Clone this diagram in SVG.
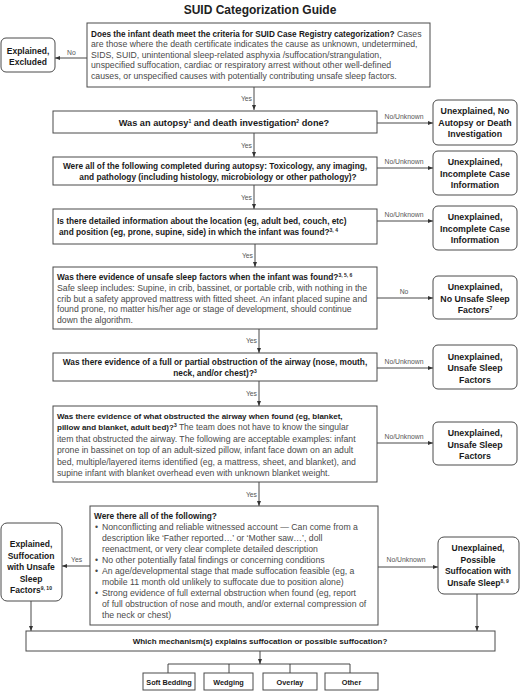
<svg xmlns="http://www.w3.org/2000/svg" width="520" height="691" viewBox="0 0 520 691">
<defs>
<marker id="ah" markerWidth="6" markerHeight="6" refX="5" refY="3" orient="auto" markerUnits="userSpaceOnUse">
<path d="M0,1 L5,3 L0,5 Z" fill="#333"/>
</marker>
<style>
text{font-family:"Liberation Sans",Arial,sans-serif;}
.t{font-size:12px;font-weight:bold;fill:#222;text-anchor:middle;}
.b{font-size:8.3px;font-weight:bold;fill:#1a1a1a;}
.r{font-size:8.7px;fill:#4a4a4a;}
.rf{font-weight:normal;fill:#4a4a4a;font-size:8.7px;}
.c{text-anchor:middle;}
.rb{font-size:8.8px;font-weight:bold;fill:#1a1a1a;text-anchor:middle;}
.rs{font-size:8.5px;}
.lbl{font-size:6.8px;fill:#555;}
.box{fill:#fff;stroke:#4a4a4a;stroke-width:1;}
.rbox{fill:#fff;stroke:#4a4a4a;stroke-width:1;}
.ln{fill:none;stroke:#333;stroke-width:0.9;}
.sup{font-size:5px;}
.m{font-size:7.3px;}
</style>
</defs>
<rect width="520" height="691" fill="#fff"/>
<text class="t" x="260" y="14">SUID Categorization Guide</text>

<g id="connectors">
<line class="ln" x1="87" y1="58" x2="55" y2="58" marker-end="url(#ah)"/>
<text class="lbl" x="67" y="55">No</text>
<line class="ln" x1="254" y1="87" x2="254" y2="110" marker-end="url(#ah)"/>
<text class="lbl" x="252" y="101" text-anchor="end">Yes</text>
<line class="ln" x1="377" y1="123" x2="433" y2="123" marker-end="url(#ah)"/>
<text class="lbl c" x="404" y="119">No/Unknown</text>
<line class="ln" x1="254" y1="133" x2="254" y2="157" marker-end="url(#ah)"/>
<text class="lbl" x="252" y="148" text-anchor="end">Yes</text>
<line class="ln" x1="377" y1="168" x2="433" y2="168" marker-end="url(#ah)"/>
<text class="lbl c" x="404" y="164">No/Unknown</text>
<line class="ln" x1="254" y1="185" x2="254" y2="209" marker-end="url(#ah)"/>
<text class="lbl" x="252" y="200" text-anchor="end">Yes</text>
<line class="ln" x1="377" y1="221" x2="433" y2="221" marker-end="url(#ah)"/>
<text class="lbl c" x="404" y="217">No/Unknown</text>
<line class="ln" x1="255" y1="244" x2="255" y2="267" marker-end="url(#ah)"/>
<text class="lbl" x="253" y="258" text-anchor="end">Yes</text>
<line class="ln" x1="377" y1="298" x2="433" y2="298" marker-end="url(#ah)"/>
<text class="lbl c" x="404" y="294">No</text>
<line class="ln" x1="259" y1="329" x2="259" y2="353" marker-end="url(#ah)"/>
<text class="lbl" x="257" y="343" text-anchor="end">Yes</text>
<line class="ln" x1="377" y1="368" x2="433" y2="368" marker-end="url(#ah)"/>
<text class="lbl c" x="404" y="364">No/Unknown</text>
<line class="ln" x1="259" y1="381" x2="259" y2="406" marker-end="url(#ah)"/>
<text class="lbl" x="257" y="396" text-anchor="end">Yes</text>
<line class="ln" x1="377" y1="443" x2="433" y2="443" marker-end="url(#ah)"/>
<text class="lbl c" x="404" y="439">No/Unknown</text>
<line class="ln" x1="259" y1="482" x2="259" y2="506" marker-end="url(#ah)"/>
<text class="lbl" x="257" y="497" text-anchor="end">Yes</text>
<line class="ln" x1="90" y1="566" x2="62" y2="566" marker-end="url(#ah)"/>
<text class="lbl" x="71" y="562">Yes</text>
<line class="ln" x1="378" y1="567" x2="438" y2="567" marker-end="url(#ah)"/>
<text class="lbl c" x="406" y="562">No/Unknown</text>
<line class="ln" x1="31" y1="601" x2="31" y2="631" marker-end="url(#ah)"/>
<line class="ln" x1="477" y1="594" x2="477" y2="631" marker-end="url(#ah)"/>
<line class="ln" x1="260" y1="651" x2="260" y2="664" marker-end="url(#ah)"/>
<path class="ln" d="M168,673 V664 H350 V673 M229,664 V673 M290,664 V673"/>
</g>

<g id="n-criteria">
<rect class="box" x="87" y="23" width="343" height="64"/>
<text class="b" x="91" y="36.5" style="font-size:8.2px">Does the infant death meet the criteria for SUID Case Registry categorization?<tspan class="rf"> Cases</tspan></text>
<text class="r" x="91" y="47">are those where the death certificate indicates the cause as unknown, undetermined,</text>
<text class="r" x="91" y="57.5">SIDS, SUID, unintentional sleep-related asphyxia /suffocation/strangulation,</text>
<text class="r" x="91" y="68">unspecified suffocation, cardiac or respiratory arrest without other well-defined</text>
<text class="r" x="91" y="78.5">causes, or unspecified causes with potentially contributing unsafe sleep factors.</text>
</g>

<g id="n-excluded">
<rect class="rbox" x="1" y="38" width="54" height="34" rx="5"/>
<text class="rb rs" x="28" y="54">Explained,</text>
<text class="rb rs" x="28" y="64.5">Excluded</text>
</g>

<g id="n-autopsy">
<rect class="box" x="53" y="111" width="324" height="22"/>
<text class="b c" x="224" y="125.5" style="font-size:9.2px">Was an autopsy<tspan class="sup" dy="-3">1</tspan><tspan dy="3"> and death investigation</tspan><tspan class="sup" dy="-3">2</tspan><tspan dy="3"> done?</tspan></text>
</g>

<g id="n-noautopsy">
<rect class="rbox" x="433" y="100" width="84" height="45" rx="5"/>
<text class="rb" x="475" y="114">Unexplained, No</text>
<text class="rb" x="475" y="125.5">Autopsy or Death</text>
<text class="rb" x="475" y="137">Investigation</text>
</g>

<g id="n-completed">
<rect class="box" x="53" y="157" width="324" height="28"/>
<text class="b c" x="215" y="168.5">Were all of the following completed during autopsy: Toxicology, any imaging,</text>
<text class="b c" x="218" y="179.5">and pathology (including histology, microbiology or other pathology)?</text>
</g>

<g id="n-incomplete1">
<rect class="rbox" x="433" y="151" width="84" height="44" rx="5"/>
<text class="rb" x="475" y="165">Unexplained,</text>
<text class="rb" x="475" y="176.5">Incomplete Case</text>
<text class="rb" x="475" y="188">Information</text>
</g>

<g id="n-location">
<rect class="box" x="53" y="209" width="324" height="35"/>
<text class="b" x="57" y="223.5">Is there detailed information about the location (eg, adult bed, couch, etc)</text>
<text class="b" x="59" y="235">and position (eg, prone, supine, side) in which the infant was found?<tspan class="sup" dy="-3">3, 4</tspan></text>
</g>

<g id="n-incomplete2">
<rect class="rbox" x="433" y="206" width="84" height="44" rx="5"/>
<text class="rb" x="475" y="220">Unexplained,</text>
<text class="rb" x="475" y="231.5">Incomplete Case</text>
<text class="rb" x="475" y="243">Information</text>
</g>

<g id="n-unsafe">
<rect class="box" x="53" y="267" width="324" height="62"/>
<text class="b" x="57" y="280">Was there evidence of unsafe sleep factors when the infant was found?<tspan class="sup" dy="-3">3, 5, 6</tspan></text>
<text class="r" x="57" y="291">Safe sleep includes: Supine, in crib, bassinet, or portable crib, with nothing in the</text>
<text class="r" x="57" y="301.5">crib but a safety approved mattress with fitted sheet. An infant placed supine and</text>
<text class="r" x="57" y="312">found prone, no matter his/her age or stage of development, should continue</text>
<text class="r" x="57" y="322.5">down the algorithm.</text>
</g>

<g id="n-nounsafe">
<rect class="rbox" x="433" y="276" width="84" height="43" rx="5"/>
<text class="rb" x="475" y="290">Unexplained,</text>
<text class="rb" x="475" y="301.5">No Unsafe Sleep</text>
<text class="rb" x="475" y="313">Factors<tspan class="sup" dy="-3">7</tspan></text>
</g>

<g id="n-obstruction">
<rect class="box" x="53" y="353" width="324" height="28"/>
<text class="b c" x="215" y="365">Was there evidence of a full or partial obstruction of the airway (nose, mouth,</text>
<text class="b c" x="215" y="376">neck, and/or chest)?<tspan class="sup" dy="-3">3</tspan></text>
</g>

<g id="n-unsafe1">
<rect class="rbox" x="433" y="345" width="84" height="44" rx="5"/>
<text class="rb" x="475" y="359.5">Unexplained,</text>
<text class="rb" x="475" y="371">Unsafe Sleep</text>
<text class="rb" x="475" y="382.5">Factors</text>
</g>

<g id="n-what">
<rect class="box" x="53" y="406" width="324" height="76"/>
<text class="b" x="57" y="419" style="font-size:8px">Was there evidence of what obstructed the airway when found (eg, blanket,</text>
<text class="b" x="57" y="430.4" style="font-size:8px">pillow and blanket, adult bed)?<tspan class="sup" dy="-3">3</tspan><tspan class="rf" dy="3" style="font-size:8.5px"> The team does not have to know the singular</tspan></text>
<text class="r" x="57" y="441.8">item that obstructed the airway. The following are acceptable examples: infant</text>
<text class="r" x="57" y="453.2">prone in bassinet on top of an adult-sized pillow, infant face down on an adult</text>
<text class="r" x="57" y="464.6">bed, multiple/layered items identified (eg, a mattress, sheet, and blanket), and</text>
<text class="r" x="57" y="476">supine infant with blanket overhead even with unknown blanket weight.</text>
</g>

<g id="n-unsafe2">
<rect class="rbox" x="433" y="422" width="84" height="43" rx="5"/>
<text class="rb" x="475" y="436">Unexplained,</text>
<text class="rb" x="475" y="447.5">Unsafe Sleep</text>
<text class="rb" x="475" y="459">Factors</text>
</g>

<g id="n-allfollowing">
<rect class="box" x="90" y="506" width="288" height="119"/>
<text class="b" x="94" y="518.5">Were there all of the following?</text>
<text class="r" x="95" y="529.6">•</text><text class="r" x="102" y="529.6">Nonconflicting and reliable witnessed account — Can come from a</text>
<text class="r" x="102" y="540.7">description like ‘Father reported…’ or ‘Mother saw…’, doll</text>
<text class="r" x="102" y="551.8">reenactment, or very clear complete detailed description</text>
<text class="r" x="95" y="562.9">•</text><text class="r" x="102" y="562.9">No other potentially fatal findings or concerning conditions</text>
<text class="r" x="95" y="574">•</text><text class="r" x="102" y="574">An age/developmental stage that made suffocation feasible (eg, a</text>
<text class="r" x="102" y="585.1">mobile 11 month old unlikely to suffocate due to position alone)</text>
<text class="r" x="95" y="596.2">•</text><text class="r" x="102" y="596.2">Strong evidence of full external obstruction when found (eg, report</text>
<text class="r" x="102" y="607.3">of full obstruction of nose and mouth, and/or external compression of</text>
<text class="r" x="102" y="618.4">the neck or chest)</text>
</g>

<g id="n-explained">
<rect class="rbox" x="1" y="523" width="61" height="78" rx="6"/>
<text class="rb rs" x="31" y="547">Explained,</text>
<text class="rb rs" x="31" y="558.5">Suffocation</text>
<text class="rb rs" x="31" y="570">with Unsafe</text>
<text class="rb rs" x="31" y="581.5">Sleep</text>
<text class="rb rs" x="31" y="593">Factors<tspan class="sup" dy="-3">9, 10</tspan></text>
</g>

<g id="n-possible">
<rect class="rbox" x="438" y="537" width="81" height="57" rx="6"/>
<text class="rb rs" x="478" y="551">Unexplained,</text>
<text class="rb rs" x="478" y="562.5">Possible</text>
<text class="rb rs" x="478" y="574">Suffocation with</text>
<text class="rb rs" x="478" y="585.5">Unsafe Sleep<tspan class="sup" dy="-3">8, 9</tspan></text>
</g>

<g id="n-mechanism">
<rect class="box" x="26" y="631" width="469" height="20"/>
<text class="b c" x="260" y="644" style="font-size:8px">Which mechanism(s) explains suffocation or possible suffocation?</text>
</g>

<g id="n-softbedding">
<rect class="box" x="143" y="673" width="52" height="17"/>
<text class="b c m" x="169" y="684.5">Soft Bedding</text>
</g>
<g id="n-wedging">
<rect class="box" x="204" y="673" width="49" height="17"/>
<text class="b c m" x="228.5" y="684.5">Wedging</text>
</g>
<g id="n-overlay">
<rect class="box" x="263" y="673" width="54" height="17"/>
<text class="b c m" x="290" y="684.5">Overlay</text>
</g>
<g id="n-other">
<rect class="box" x="325" y="673" width="53" height="17"/>
<text class="b c m" x="351.5" y="684.5">Other</text>
</g>
</svg>
